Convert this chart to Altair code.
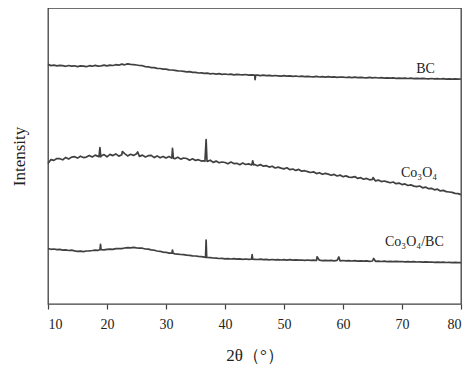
import altair as alt
import pandas as pd

# 2θ sampling grid (10° .. 80°, 0.5° steps)
two_theta = [10 + 0.5 * i for i in range(141)]

bc_vals = [
    239.6, 238.4, 238.9, 238.1, 238.6, 238.3, 237.7, 238.5, 237.8, 238.2,
    237.4, 238.1, 237.9, 237.3, 238.3, 237.8, 238.6, 237.9, 238.2, 238.8,
    238.1, 238.9, 238.5, 239.3, 238.8, 239.9, 239.2, 240.1, 239.6, 239.4,
    239.0, 238.5, 238.3, 237.4, 237.2, 236.4, 236.3, 235.6, 235.5, 234.8,
    234.9, 234.1, 234.0, 233.7, 233.2, 233.0, 232.7, 232.2, 232.3, 231.6,
    231.6, 231.0, 231.2, 230.6, 230.8, 230.2, 230.5, 229.8, 230.3, 229.7,
    230.0, 229.5, 229.9, 229.2, 229.6, 229.3, 229.1, 229.5, 228.8, 229.2,
    228.8, 228.9, 228.4, 228.9, 228.3, 228.6, 228.1, 228.5, 228.2, 227.9,
    228.4, 227.8, 228.1, 227.6, 228.0, 227.5, 227.8, 227.3, 227.7, 227.4,
    227.2, 227.6, 227.0, 227.4, 226.9, 227.3, 226.8, 227.1, 226.7, 227.0,
    226.9, 226.5, 226.9, 226.4, 226.8, 226.3, 226.7, 226.4, 226.2, 226.6,
    226.1, 226.5, 226.0, 226.3, 225.9, 226.2, 225.8, 226.1, 225.7, 225.9,
    225.6, 225.9, 225.5, 225.8, 225.4, 225.7, 225.3, 225.6, 225.3, 225.2,
    225.5, 225.1, 225.4, 225.0, 225.3, 224.9, 225.2, 224.9, 225.1, 224.8,
    225.0,
]

co3o4_vals = [
    140.5, 144.4, 143.6, 145.5, 145.3, 144.2, 146.6, 145.0, 146.9, 147.3,
    145.9, 147.8, 146.4, 146.9, 148.6, 147.0, 148.9, 147.6, 148.0, 149.4,
    147.2, 149.6, 148.4, 150.1, 147.9, 149.2, 150.4, 148.1, 149.7, 148.6,
    150.2, 147.6, 148.9, 147.0, 148.3, 148.6, 146.4, 148.1, 146.2, 147.6,
    145.9, 147.4, 146.7, 145.3, 146.8, 144.9, 146.0, 145.5, 143.8, 145.2,
    143.6, 144.3, 142.9, 143.4, 142.6, 143.8, 141.6, 142.9, 141.2, 142.0,
    141.5, 140.2, 141.9, 140.4, 140.7, 139.3, 141.0, 139.5, 140.1, 139.0,
    139.6, 138.2, 139.4, 137.8, 138.3, 136.9, 137.8, 136.0, 136.9, 135.9,
    135.1, 136.2, 134.3, 135.0, 133.6, 134.6, 132.8, 133.3, 132.4, 131.5,
    132.2, 130.4, 131.3, 129.7, 130.6, 129.9, 128.7, 129.6, 128.0, 128.9,
    127.2, 128.1, 126.9, 126.6, 127.4, 125.6, 126.3, 124.8, 125.6, 124.2,
    124.6, 123.1, 123.9, 122.4, 123.0, 122.1, 121.2, 122.0, 120.3, 120.9,
    119.4, 120.1, 118.5, 119.2, 117.9, 117.3, 118.0, 116.2, 116.9, 115.3,
    115.7, 114.2, 114.8, 113.1, 113.6, 112.4, 112.0, 111.6, 110.6, 110.4,
    109.4,
]

composite_vals = [
    55.5, 54.7, 55.0, 54.4, 54.6, 53.9, 54.2, 53.5, 53.8, 53.1,
    52.6, 52.9, 52.4, 53.0, 53.2, 53.5, 53.9, 53.7, 54.3, 54.1,
    54.7, 54.9, 54.6, 55.3, 55.5, 55.4, 56.0, 56.4, 56.1, 56.6,
    56.2, 55.9, 55.8, 55.0, 54.9, 54.1, 53.8, 53.0, 52.7, 51.9,
    51.7, 50.9, 50.8, 50.1, 49.8, 49.5, 49.3, 48.8, 48.7, 48.1,
    48.0, 47.6, 47.3, 46.9, 46.6, 46.4, 46.0, 45.9, 45.5, 45.6,
    45.2, 45.4, 45.0, 45.3, 44.9, 45.1, 44.7, 45.0, 44.6, 44.9,
    44.7, 44.5, 44.8, 44.3, 44.6, 44.2, 44.5, 44.1, 44.4, 44.0,
    44.4, 43.9, 44.3, 43.8, 44.2, 43.8, 44.0, 43.6, 44.0, 43.6,
    43.9, 43.5, 43.8, 43.4, 43.7, 43.4, 43.6, 43.2, 43.6, 43.2,
    43.5, 43.1, 43.4, 43.0, 43.3, 42.9, 43.2, 42.8, 43.1, 42.7,
    43.0, 42.7, 42.9, 42.5, 42.8, 42.4, 42.7, 42.3, 42.6, 42.3,
    42.5, 42.2, 42.4, 42.1, 42.3, 42.0, 42.2, 41.9, 42.1, 41.8,
    42.0, 41.7, 41.9, 41.6, 41.8, 41.5, 41.7, 41.4, 41.6, 41.3,
    41.3,
]

# sharp reflections (2θ, intensity)
bc_peak_x = [45.05, 45.1, 45.2]
bc_peak_y = [228.8, 224.3, 228.9]
co3o4_peak_x = [18.65, 18.8, 18.95, 22.6, 25.2, 30.95, 31.1, 31.25, 36.6, 36.8, 36.95, 44.55, 44.7, 44.85, 65.1]
co3o4_peak_y = [147.3, 156.5, 147.2, 152.5, 152.0, 146.0, 155.7, 145.9, 142.7, 164.5, 142.8, 139.3, 143.2, 139.2, 126.5]
comp_peak_x = [18.8, 18.9, 19.0, 31.0, 31.1, 31.2, 36.7, 36.8, 36.9, 44.5, 44.6, 44.7, 55.6, 59.3, 65.2]
comp_peak_y = [54.2, 59.7, 54.3, 50.9, 54.0, 50.8, 46.6, 64.0, 46.5, 44.9, 49.5, 44.8, 47.2, 47.0, 45.6]

series_names = ["BC", "Co3O4", "Co3O4/BC"]
label_text = ["BC", "Co₃O₄", "Co₃O₄/BC"]
label_x = [74.0, 72.9, 72.1]
label_y = [235.0, 130.7, 61.7]

x_ticks = [10, 20, 30, 40, 50, 60, 70, 80]


def build(name, vals, px, py):
    pts = list(zip(two_theta, vals)) + list(zip(px, py))
    pts.sort(key=lambda p: p[0])
    return pd.DataFrame({"two_theta": [p[0] for p in pts],
                         "intensity": [p[1] for p in pts],
                         "sample": name})


df = pd.concat([
    build(series_names[0], bc_vals, bc_peak_x, bc_peak_y),
    build(series_names[1], co3o4_vals, co3o4_peak_x, co3o4_peak_y),
    build(series_names[2], composite_vals, comp_peak_x, comp_peak_y),
], ignore_index=True)

labels = pd.DataFrame({"two_theta": label_x, "intensity": label_y, "text": label_text})

FONT = "Liberation Serif"
INK = "#404040"

x_enc = alt.X("two_theta:Q",
              scale=alt.Scale(domain=[10, 80], nice=False, zero=False),
              axis=alt.Axis(values=x_ticks, title="2θ（°）", format="d",
                            grid=False, domain=False, tickSize=5, tickColor=INK,
                            tickWidth=1.2, labelFont=FONT, labelFontSize=14,
                            labelColor="#222", labelPadding=8,
                            titleFont=FONT, titleFontSize=17, titleFontWeight="normal",
                            titleColor="#222", titlePadding=16))
y_enc = alt.Y("intensity:Q",
              scale=alt.Scale(domain=[0, 296], nice=False, zero=False),
              axis=alt.Axis(title="Intensity", labels=False, ticks=False, grid=False,
                            domain=False, titleFont=FONT, titleFontSize=17,
                            titleFontWeight="normal", titleColor="#222",
                            titlePadding=20))

lines = alt.Chart(df).mark_line(color=INK, strokeWidth=1.7, strokeJoin="round").encode(
    x=x_enc, y=y_enc, detail="sample:N", order="two_theta:Q")

texts = alt.Chart(labels).mark_text(font=FONT, fontSize=14, color="#222",
                                    align="center", baseline="middle").encode(
    x="two_theta:Q", y="intensity:Q", text="text:N")

chart = (lines + texts).properties(
    width=413, height=296,
    autosize=alt.AutoSizeParams(type="none"),
    padding={"left": 40, "top": 0, "right": 5, "bottom": 60},
).configure(background="white", font=FONT).configure_view(stroke=INK, strokeWidth=1.3)

chart.save("out.html", embed_options={"renderer": "svg", "actions": False})
